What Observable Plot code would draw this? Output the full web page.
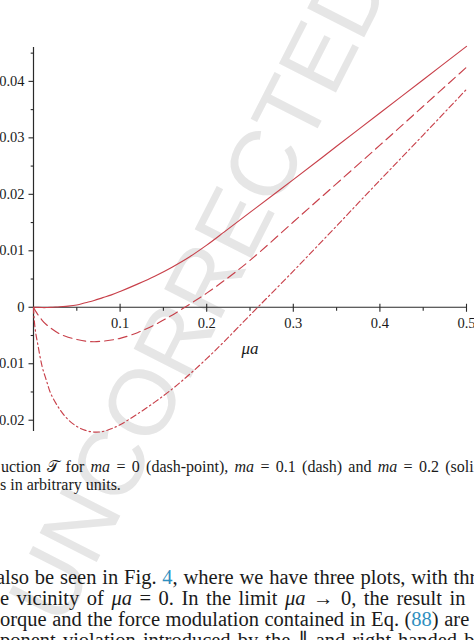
<!DOCTYPE html>
<html><head><meta charset="utf-8">
<script src="https://cdn.jsdelivr.net/npm/d3@7"></script>
<script src="https://cdn.jsdelivr.net/npm/@observablehq/plot@0.6"></script>
<style>
html,body{margin:0;padding:0;background:#fff;overflow:hidden;width:474px;height:640px;}
#wrap{position:relative;width:474px;height:640px;overflow:hidden;}
#wm{position:absolute;left:199px;top:292px;transform:translate(-50%,-50%) rotate(-63deg);font:93px "Liberation Sans",sans-serif;color:#e6e6e6;white-space:nowrap;z-index:0;}
#chart{position:relative;z-index:1;height:440px;}
#chart svg{display:block;background:transparent;}
.cap{position:relative;z-index:1;font-family:"Liberation Serif",serif;font-size:16px;line-height:18px;margin-top:18px;white-space:nowrap;color:#1a1a1a;}
.bod{position:relative;z-index:1;font-family:"Liberation Serif",serif;font-size:20.5px;line-height:21px;margin-top:73px;white-space:nowrap;color:#1a1a1a;}
.it{font-style:italic}
.lnk{color:#2f8fc0}
</style></head>
<body><div id="wrap">
<div id="wm">UNCORRECTED</div>
<div id="chart"></div>
<div class="cap">
<div style="margin-left:1px;word-spacing:2.3px">uction 𝒯 for <span class="it">ma</span> = 0 (dash-point), <span class="it">ma</span> = 0.1 (dash) and <span class="it">ma</span> = 0.2 (solid line).</div>
<div>s in arbitrary units.</div>
</div>
<div class="bod">
<div style="margin-left:-4px;word-spacing:0.7px">also be seen in Fig. <span class="lnk">4</span>, where we have three plots, with three</div>
<div style="margin-left:0px;word-spacing:2.4px">e vicinity of <span class="it">μa</span> = 0. In the limit <span class="it">μa</span> → 0, the result in</div>
<div style="margin-left:0px;word-spacing:0.4px">orque and the force modulation contained in Eq. (<span class="lnk">88</span>) are</div>
<div style="margin-left:0px;word-spacing:2px">ponent violation introduced by the ∥ and right-handed b</div>
</div>
</div>
<script>
// ---- data ----
const xs      = [0, 0.001, 0.0025, 0.005, 0.01, 0.015, 0.02, 0.03, 0.04, 0.05, 0.06, 0.07, 0.08, 0.09, 0.1, 0.12, 0.14, 0.16, 0.18, 0.2, 0.22, 0.25, 0.3, 0.35, 0.4, 0.45, 0.5];
const solid   = [0, 0, 0, -0.00002, -0.00005, -0.00005, -0.00003, 0.0001, 0.0002, 0.0004, 0.0008, 0.0012, 0.0017, 0.0022, 0.0028, 0.0041, 0.0055, 0.0071, 0.0089, 0.0110, 0.0133, 0.0168, 0.0226, 0.0285, 0.0344, 0.0403, 0.0462];
const dashed  = [0, -0.0003, -0.0007, -0.0013, -0.0023, -0.0031, -0.0037, -0.0047, -0.0053, -0.0057, -0.0060, -0.0061, -0.0060, -0.0058, -0.0055, -0.0045, -0.0031, -0.0014, 0.0005, 0.0025, 0.0047, 0.0083, 0.0151, 0.0219, 0.0287, 0.0356, 0.0425];
const dashdot = [0, -0.0025, -0.0045, -0.0066, -0.0105, -0.0130, -0.0153, -0.0180, -0.0199, -0.0211, -0.0218, -0.0221, -0.0220, -0.0215, -0.0208, -0.0189, -0.0168, -0.0145, -0.0119, -0.0091, -0.0061, -0.0014, 0.0064, 0.0144, 0.0225, 0.0305, 0.0386];
const xDomain = [0, 0.5];
const yDomain = [-0.022, 0.046];
const xMajor  = [0.1, 0.2, 0.3, 0.4, 0.5];
const xMinor  = [0.05, 0.15, 0.25, 0.35, 0.45];
const yMajor  = [-0.02, -0.01, 0, 0.01, 0.02, 0.03, 0.04];
const yMinor  = [-0.015, -0.005, 0.005, 0.015, 0.025, 0.035, 0.045];
const xLabel  = "μa";

const red = "#c8404a";
const axisColor = "#2a2a2a";
const rows = (ys) => xs.map((x, i) => ({x, y: ys[i]}));

const tickCross = {draw(c){ c.moveTo(0, -3.5); c.lineTo(0, 4.5); }};
const tickDown  = {draw(c){ c.moveTo(0, 0); c.lineTo(0, 3.5); }};
const tickLeft  = {draw(c){ c.moveTo(0, 0); c.lineTo(-5, 0); }};
const tickLeftS = {draw(c){ c.moveTo(0, 0); c.lineTo(-2.8, 0); }};
const fmt = d => d === 0 ? "0" : (d < 0 ? "\u2212" : "") + Math.abs(d).toString();

const plot = Plot.plot({
  width: 474, height: 440,
  marginLeft: 33, marginRight: 8, marginTop: 47, marginBottom: 9,
  style: {background: "transparent", fontFamily: "Liberation Serif, serif", fontSize: "14px", color: "#1a1a1a", overflow: "visible"},
  x: {domain: xDomain, axis: null},
  y: {domain: yDomain, axis: null},
  marks: [
    Plot.ruleY([0], {stroke: axisColor, strokeWidth: 1.2}),
    Plot.ruleX([0], {stroke: axisColor, strokeWidth: 1.2}),
    Plot.dot(xMajor, {x: d => d, y: 0, symbol: tickCross, stroke: axisColor, fill: "none", strokeWidth: 1.1}),
    Plot.dot(xMinor, {x: d => d, y: 0, symbol: tickDown, stroke: axisColor, fill: "none", strokeWidth: 1.1}),
    Plot.dot(yMajor, {x: 0, y: d => d, symbol: tickLeft, stroke: axisColor, fill: "none", strokeWidth: 1.1}),
    Plot.dot(yMinor, {x: 0, y: d => d, symbol: tickLeftS, stroke: axisColor, fill: "none", strokeWidth: 1.1}),
    Plot.text(xMajor, {x: d => d, y: 0, text: d => fmt(d), dy: 16, fontSize: 14.5, fill: "#1a1a1a"}),
    Plot.text(yMajor, {x: 0, y: d => d, text: d => fmt(d), dx: -9, textAnchor: "end", fontSize: 14.5, fill: "#1a1a1a"}),
    Plot.text([xLabel], {x: (xDomain[0] + xDomain[1]) / 2, y: 0, text: d => d, dy: 41, fontSize: 17, fontStyle: "italic", fill: "#1a1a1a"}),
    Plot.line(rows(dashdot), {x: "x", y: "y", stroke: red, strokeWidth: 1.15, strokeDasharray: "6,3,1.5,3", curve: "catmull-rom"}),
    Plot.line(rows(dashed), {x: "x", y: "y", stroke: red, strokeWidth: 1.15, strokeDasharray: "9,5", curve: "catmull-rom"}),
    Plot.line(rows(solid), {x: "x", y: "y", stroke: red, strokeWidth: 1.15, curve: "catmull-rom"})
  ]
});
document.getElementById("chart").appendChild(plot);
</script>
</body></html>
